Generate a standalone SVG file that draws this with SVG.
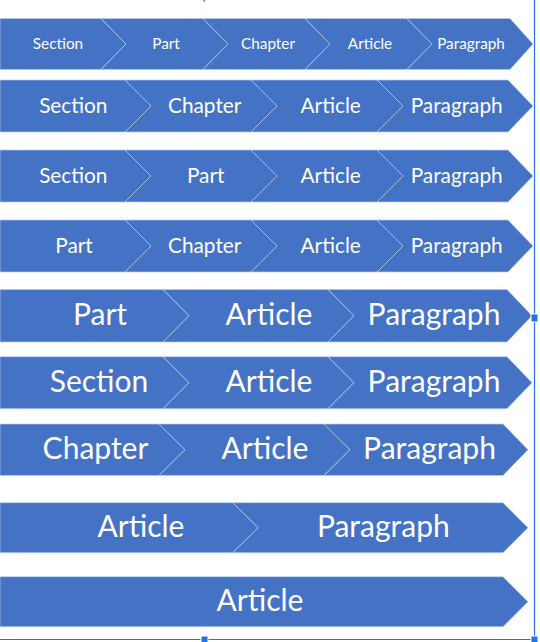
<svg xmlns="http://www.w3.org/2000/svg" width="540" height="642" viewBox="0 0 540 642">
<style>
.seg{fill:#4472C4;stroke:#b9cbec;stroke-width:0.7;stroke-linejoin:miter}
.t{fill:#ffffff;font-family:Lato,"Open Sans",sans-serif;text-anchor:middle}
.s1{font-size:15.3px}
.s2{font-size:20.8px}
.s3{font-size:30px}
.sel{stroke:#1f74e6;stroke-width:1.2;fill:none}
.h{fill:#1f74e6;stroke:#ffffff;stroke-width:1}
</style>
<rect width="540" height="642" fill="#ffffff"/>
<!-- Row 1 -->
<g id="r1-section"><polygon class="seg" points="0,18.5 101,18.5 126,44 101,69.5 0,69.5"/><text class="t s1" x="58" y="49.3">Section</text></g>
<g id="r1-part"><polygon class="seg" points="101,18.5 203,18.5 228,44 203,69.5 101,69.5 126,44"/><text class="t s1" x="166" y="49.3">Part</text></g>
<g id="r1-chapter"><polygon class="seg" points="203,18.5 305,18.5 330,44 305,69.5 203,69.5 228,44"/><text class="t s1" x="268" y="49.3">Chapter</text></g>
<g id="r1-article"><polygon class="seg" points="305,18.5 407,18.5 432,44 407,69.5 305,69.5 330,44"/><text class="t s1" x="370" y="49.3">Article</text></g>
<g id="r1-paragraph"><polygon class="seg" points="407,18.5 510,18.5 533,44 510,69.5 407,69.5 432,44"/><text class="t s1" x="471" y="49.3">Paragraph</text></g>
<!-- Row 2 -->
<g id="r2-section"><polygon class="seg" points="0,80 125,80 151,106 125,132 0,132"/><text class="t s2" x="73.3" y="113.3">Section</text></g>
<g id="r2-chapter"><polygon class="seg" points="125,80 251,80 277,106 251,132 125,132 151,106"/><text class="t s2" x="204.7" y="113.3">Chapter</text></g>
<g id="r2-article"><polygon class="seg" points="251,80 377,80 403,106 377,132 251,132 277,106"/><text class="t s2" x="330.7" y="113.3">Article</text></g>
<g id="r2-paragraph"><polygon class="seg" points="377,80 508,80 533,106 508,132 377,132 403,106"/><text class="t s2" x="456.7" y="113.3">Paragraph</text></g>
<!-- Row 3 -->
<g id="r3-section"><polygon class="seg" points="0,150 125,150 151,176 125,202 0,202"/><text class="t s2" x="73.3" y="183.3">Section</text></g>
<g id="r3-part"><polygon class="seg" points="125,150 251,150 277,176 251,202 125,202 151,176"/><text class="t s2" x="205.7" y="183.3">Part</text></g>
<g id="r3-article"><polygon class="seg" points="251,150 377,150 403,176 377,202 251,202 277,176"/><text class="t s2" x="330.7" y="183.3">Article</text></g>
<g id="r3-paragraph"><polygon class="seg" points="377,150 508,150 533,176 508,202 377,202 403,176"/><text class="t s2" x="456.7" y="183.3">Paragraph</text></g>
<!-- Row 4 -->
<g id="r4-part"><polygon class="seg" points="0,220 125,220 151,246 125,272 0,272"/><text class="t s2" x="74" y="253.3">Part</text></g>
<g id="r4-chapter"><polygon class="seg" points="125,220 251,220 277,246 251,272 125,272 151,246"/><text class="t s2" x="204.7" y="253.3">Chapter</text></g>
<g id="r4-article"><polygon class="seg" points="251,220 377,220 403,246 377,272 251,272 277,246"/><text class="t s2" x="330.7" y="253.3">Article</text></g>
<g id="r4-paragraph"><polygon class="seg" points="377,220 508,220 533,246 508,272 377,272 403,246"/><text class="t s2" x="456.7" y="253.3">Paragraph</text></g>
<!-- Row 5 -->
<g id="r5-part"><polygon class="seg" points="0,289.5 163,289.5 189,315.7 163,342 0,342"/><text class="t s3" x="100" y="325">Part</text></g>
<g id="r5-article"><polygon class="seg" points="163,289.5 328,289.5 354,315.7 328,342 163,342 189,315.7"/><text class="t s3" x="269" y="325">Article</text></g>
<g id="r5-paragraph"><polygon class="seg" points="328,289.5 507,289.5 532,315.7 507,342 328,342 354,315.7"/><text class="t s3" x="434" y="325">Paragraph</text></g>
<!-- Row 6 -->
<g id="r6-section"><polygon class="seg" points="0,356.7 163,356.7 189,382.7 163,408.7 0,408.7"/><text class="t s3" x="99" y="392">Section</text></g>
<g id="r6-article"><polygon class="seg" points="163,356.7 328,356.7 354,382.7 328,408.7 163,408.7 189,382.7"/><text class="t s3" x="269" y="392">Article</text></g>
<g id="r6-paragraph"><polygon class="seg" points="328,356.7 507,356.7 532,382.7 507,408.7 328,408.7 354,382.7"/><text class="t s3" x="434" y="392">Paragraph</text></g>
<!-- Row 7 -->
<g id="r7-chapter"><polygon class="seg" points="0,424 159,424 185,449.7 159,475.5 0,475.5"/><text class="t s3" x="95.5" y="459">Chapter</text></g>
<g id="r7-article"><polygon class="seg" points="159,424 324,424 350,449.7 324,475.5 159,475.5 185,449.7"/><text class="t s3" x="265" y="459">Article</text></g>
<g id="r7-paragraph"><polygon class="seg" points="324,424 503,424 528,449.7 503,475.5 324,475.5 350,449.7"/><text class="t s3" x="429.5" y="459">Paragraph</text></g>
<!-- Row 8 -->
<g id="r8-article"><polygon class="seg" points="0,502.7 232.7,502.7 258.3,527.7 232.7,552.7 0,552.7"/><text class="t s3" x="141" y="537">Article</text></g>
<g id="r8-paragraph"><polygon class="seg" points="232.7,502.7 503,502.7 528,527.7 503,552.7 232.7,552.7 258.3,527.7"/><text class="t s3" x="383.3" y="537">Paragraph</text></g>
<!-- Row 9 -->
<g id="r9-article"><polygon class="seg" points="0,576.7 503,576.7 528,601.7 503,626.7 0,626.7"/><text class="t s3" x="260" y="611">Article</text></g>
<!-- connectors (none) and selection frame -->
<g id="connectors"></g>
<g id="selection">
<line class="sel" x1="534.5" y1="0" x2="534.5" y2="639.5"/>
<line class="sel" x1="0" y1="639.5" x2="534.5" y2="639.5"/>
<rect class="h" x="531" y="314" width="7" height="8"/>
<rect class="h" x="201" y="636" width="7" height="7"/>
<rect class="h" x="531" y="636" width="7" height="7"/>
<rect x="203.5" y="0" width="1.5" height="1.5" fill="#1f74e6"/>
</g>
</svg>
